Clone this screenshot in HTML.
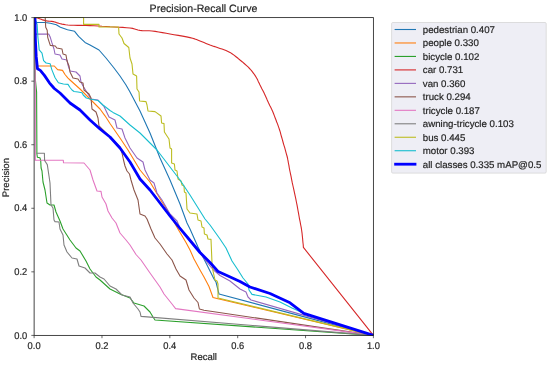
<!DOCTYPE html>
<html><head><meta charset="utf-8"><title>Precision-Recall Curve</title>
<style>
html,body{margin:0;padding:0;background:#fff;}
svg{display:block;}
text{font-family:"Liberation Sans",Arial,sans-serif;fill:#262626;stroke:#262626;stroke-width:0.2px;text-rendering:geometricPrecision;}
</style></head><body>
<svg width="550" height="365" viewBox="0 0 550 365">
<rect x="0" y="0" width="550" height="365" fill="#ffffff"/>
<defs><clipPath id="ax"><rect x="34.12" y="17.35" width="339.78" height="318.55"/></clipPath></defs>
<g clip-path="url(#ax)" fill="none" stroke-linejoin="round" stroke-linecap="butt">
<polyline points="34.4,17.6 36.3,22.5 45.2,22.5 50.3,23.3 56.3,24.7 60.4,27.2 67.5,29.7 74.6,31.3 78.6,36.3 85.0,42.4 90.0,45.0 99.0,50.0 106.0,58.0 114.0,68.0 120.0,76.0 126.0,85.0 130.0,92.0 140.0,111.0 150.0,133.0 156.0,148.0 160.0,158.0 170.0,180.0 180.0,204.0 187.0,223.0 190.0,229.0 198.0,247.0 204.0,259.0 210.0,271.0 214.0,279.0 216.0,282.0 219.0,294.0 373.4,335.4" stroke="#1f77b4" stroke-width="1.10"/>
<polyline points="34.4,17.6 35.5,50.0 36.5,66.0 54.3,66.0 57.6,69.6 62.5,70.4 65.0,74.5 68.0,78.2 70.0,80.0 80.0,89.0 90.0,99.0 100.0,109.0 105.0,115.8 110.0,123.5 120.0,138.0 128.0,150.0 134.0,160.0 140.0,170.0 150.0,182.0 156.0,192.0 162.0,202.0 166.0,208.0 178.0,229.0 186.0,242.5 190.0,250.0 194.0,259.0 200.0,270.0 204.0,277.0 209.0,286.5 213.0,297.5 218.0,298.8 373.4,335.4" stroke="#ff7f0e" stroke-width="1.10"/>
<polyline points="34.4,17.6 35.2,30.0 35.4,80.0 36.6,92.0 36.9,154.0 37.4,157.3 39.9,157.7 40.7,160.5 41.1,168.0 42.0,171.0 43.0,182.0 45.0,190.0 47.0,203.0 50.0,205.0 54.0,205.0 56.0,212.0 60.0,221.0 63.0,229.0 70.0,240.0 76.0,248.0 80.0,251.0 86.0,261.0 90.0,269.0 96.0,277.0 100.0,280.0 110.0,289.0 120.0,294.0 130.0,298.0 134.0,303.0 144.0,306.0 150.0,312.0 153.0,317.0 155.0,320.0 373.4,335.4" stroke="#2ca02c" stroke-width="1.10"/>
<polyline points="34.4,17.6 34.8,17.6 35.2,17.6 35.8,17.7 36.6,17.8 37.6,18.0 38.8,18.4 40.3,19.0 41.9,19.6 43.6,20.1 45.2,20.6 46.8,20.9 48.5,21.1 50.1,21.2 51.7,21.4 53.3,21.6 54.7,22.0 56.1,22.4 57.4,22.9 58.8,23.3 60.4,23.7 62.1,24.1 63.8,24.4 65.6,24.7 67.8,25.0 70.5,25.2 73.8,25.3 77.6,25.4 81.7,25.4 85.9,25.5 90.0,25.6 94.0,25.8 98.0,26.0 102.0,26.3 106.0,26.5 110.0,26.8 114.2,27.0 118.5,27.2 122.7,27.4 126.6,27.7 130.0,28.0 132.6,28.4 134.6,29.0 136.3,29.5 138.0,30.0 140.0,30.4 142.2,30.6 144.4,30.7 146.7,30.7 149.2,30.8 152.0,31.0 155.2,31.4 158.7,32.0 162.4,32.6 166.2,33.3 170.0,34.0 174.0,34.7 178.3,35.4 182.6,36.1 186.6,36.9 190.0,37.6 192.6,38.3 194.7,38.9 196.5,39.6 198.2,40.3 200.0,41.0 202.0,41.8 204.0,42.6 206.0,43.4 208.0,44.2 210.0,45.0 212.0,45.7 214.0,46.4 216.0,47.0 218.0,47.7 220.0,48.4 222.0,49.1 224.0,49.8 226.0,50.5 228.0,51.4 230.0,52.4 232.0,53.7 234.0,55.1 236.0,56.7 238.0,58.3 240.0,60.0 242.1,61.7 244.2,63.5 246.3,65.4 248.3,67.2 250.0,69.0 251.5,70.7 252.8,72.3 253.9,73.8 255.0,75.4 256.0,77.0 256.9,78.6 257.7,80.1 258.4,81.7 259.2,83.3 260.0,85.0 261.0,86.9 262.0,89.0 263.1,91.0 264.1,93.1 265.0,95.0 265.8,96.7 266.6,98.4 267.2,100.0 267.9,101.5 268.6,103.0 269.3,104.4 269.9,105.7 270.6,107.0 271.3,108.4 272.0,110.0 272.8,111.8 273.6,113.8 274.4,115.9 275.2,118.0 276.0,120.0 276.7,122.0 277.5,123.9 278.2,125.9 278.9,127.9 279.6,130.0 280.3,132.2 280.9,134.6 281.6,137.0 282.3,139.4 283.0,142.0 283.8,144.8 284.7,147.7 285.5,150.7 286.3,153.6 287.0,156.0 287.5,158.0 287.8,159.7 288.1,161.1 288.3,162.5 288.6,164.0 288.9,165.4 289.1,166.7 289.3,168.0 289.6,169.6 290.0,171.5 290.5,173.9 291.1,176.7 291.7,179.8 292.3,182.9 293.0,186.0 293.7,189.1 294.4,192.4 295.1,195.7 295.8,198.9 296.4,202.0 297.0,204.9 297.5,207.7 298.0,210.5 298.5,213.2 299.0,216.0 299.5,218.8 300.1,221.6 300.6,224.5 301.2,227.3 301.6,230.0 302.0,232.8 302.3,235.7 302.6,238.5 302.8,241.0 303.0,243.0 303.2,244.5 303.3,245.6 303.3,246.4 303.4,246.9 303.4,247.4 373.4,335.4" stroke="#d62728" stroke-width="1.10"/>
<polyline points="34.4,17.6 34.6,34.1 48.7,34.1 50.3,37.3 51.8,42.4 54.0,49.0 55.0,54.0 60.0,55.0 62.0,59.0 67.0,60.0 68.0,65.0 70.0,71.0 76.0,72.0 80.0,76.0 81.0,82.0 83.0,86.0 88.0,94.0 91.0,99.0 98.0,100.0 104.0,106.5 109.0,117.0 115.0,120.0 117.0,128.0 122.0,129.0 125.0,138.0 130.0,148.0 137.0,158.0 143.0,162.0 145.0,170.0 150.0,180.0 154.0,183.0 157.0,193.0 162.0,200.0 170.0,214.0 177.0,221.0 180.0,228.0 188.0,238.5 200.0,253.0 206.0,261.0 213.0,269.5 220.0,275.5 230.0,281.0 240.0,289.0 246.0,292.0 248.0,297.0 251.0,300.0 373.4,335.4" stroke="#9467bd" stroke-width="1.10"/>
<polyline points="34.4,17.4 45.2,17.4 45.7,27.2 47.2,30.2 47.7,37.3 49.3,42.4 50.3,45.4 55.3,46.0 56.8,48.0 62.0,49.0 63.0,54.0 66.0,55.0 67.0,61.0 69.0,66.0 70.0,72.0 73.0,78.0 78.0,79.0 80.0,82.0 83.0,83.0 84.0,90.0 89.0,94.0 91.0,98.0 92.0,109.0 96.0,112.0 98.0,118.0 99.0,126.0 110.0,137.0 120.0,147.0 122.0,153.0 123.5,160.0 125.0,166.0 127.0,171.0 129.5,174.0 131.0,180.0 134.0,190.0 138.0,200.0 140.0,214.0 145.0,216.0 147.0,219.0 151.0,229.0 155.0,238.0 160.0,244.0 167.0,254.0 172.0,260.0 176.0,269.0 180.0,276.0 186.0,280.0 189.0,290.0 194.0,298.0 198.0,302.5 199.4,309.0 204.0,310.2 373.4,335.4" stroke="#8c564b" stroke-width="1.10"/>
<polyline points="34.4,17.6 35.0,30.0 35.3,90.0 35.3,160.2 63.3,160.3 63.5,162.8 84.0,163.0 90.0,170.0 93.0,180.0 97.0,191.0 101.0,191.4 102.0,197.0 106.0,204.0 108.0,211.0 112.0,218.0 116.0,223.0 120.0,233.0 126.0,240.0 130.0,245.0 136.0,254.5 141.0,260.0 150.0,273.0 160.0,287.0 164.0,294.0 172.0,304.0 175.6,308.6 373.4,335.4" stroke="#e377c2" stroke-width="1.10"/>
<polyline points="36.8,153.3 44.4,153.3 44.6,160.5 47.3,164.6 49.0,176.0 50.0,183.0 51.0,205.0 53.0,208.0 54.0,220.0 55.0,221.6 59.0,222.0 60.0,229.0 63.0,235.0 64.0,245.0 67.0,252.0 72.0,258.0 77.0,259.0 79.0,266.0 85.0,268.0 90.0,273.0 95.0,273.0 100.0,277.0 104.0,279.0 110.0,286.0 116.0,289.0 122.0,295.0 130.0,297.0 133.0,303.0 138.0,309.0 140.0,312.0 141.0,316.4 373.4,335.4" stroke="#7f7f7f" stroke-width="1.10"/>
<polyline points="34.4,17.4 83.6,17.4 83.6,24.4 99.0,24.4 99.0,27.0 118.6,27.0 119.0,34.0 122.0,38.0 124.0,43.5 128.8,47.5 130.0,58.0 132.0,64.0 133.0,74.0 136.6,76.0 137.0,89.0 139.0,92.0 139.6,101.0 146.0,101.6 147.0,105.0 148.0,111.0 155.0,111.6 161.0,116.0 161.6,123.0 164.0,123.6 164.4,132.0 167.0,136.0 169.0,139.0 170.0,148.0 171.6,149.0 171.6,163.0 174.4,164.0 175.0,170.0 177.0,171.0 178.0,179.0 181.0,181.0 182.0,185.0 184.0,186.0 184.4,192.0 186.0,193.0 187.0,209.0 190.0,213.0 197.0,214.0 198.0,220.0 201.0,221.0 202.0,227.0 204.0,228.0 204.4,234.0 207.0,235.0 208.0,239.0 211.0,239.4 212.0,263.0 213.0,271.0 215.0,280.0 217.0,281.0 218.0,284.0 218.0,298.0 373.4,335.4" stroke="#bcbd22" stroke-width="1.10"/>
<polyline points="34.4,17.6 36.5,23.7 37.1,23.7 37.9,37.3 38.2,40.0 39.2,49.9 42.0,53.2 43.6,60.6 46.1,63.0 50.2,63.8 51.8,69.6 55.1,77.8 58.4,82.8 63.4,84.0 68.0,84.4 70.0,87.5 72.0,90.0 74.0,91.5 78.0,92.0 82.0,92.8 83.2,95.0 86.3,98.0 91.0,99.3 98.0,100.5 103.0,105.0 110.0,110.5 113.0,112.4 120.0,116.0 130.0,125.0 140.0,133.0 150.0,143.0 157.0,150.0 170.0,167.0 180.0,180.0 190.0,195.0 200.0,211.0 205.0,219.0 210.0,225.0 220.0,239.0 226.0,248.0 232.0,261.0 236.0,267.0 238.0,270.0 243.0,278.0 248.0,284.0 249.0,290.0 252.0,294.4 266.0,297.0 280.0,302.0 292.0,308.0 303.0,313.0 373.4,335.4" stroke="#17becf" stroke-width="1.10"/>
<polyline points="35.0,17.6 35.4,40.0 36.2,56.4 37.5,68.8 40.3,70.4 44.4,75.4 49.4,82.8 54.3,88.5 60.0,93.0 70.0,103.0 80.0,110.0 90.0,120.0 100.0,129.0 110.0,137.0 120.0,148.0 130.0,162.0 140.0,179.0 150.0,190.0 160.0,203.0 170.0,216.0 178.0,226.0 188.0,238.0 200.0,252.5 210.0,262.5 218.0,271.5 228.0,276.0 240.0,281.5 250.0,287.0 270.0,293.5 290.0,302.8 303.8,313.3 373.4,335.4" stroke="#0000ff" stroke-width="2.80"/>
</g>
<rect x="34.12" y="17.60" width="339.28" height="317.80" fill="none" stroke="#262626" stroke-width="0.85"/>
<line x1="34.12" y1="335.40" x2="34.12" y2="338.20" stroke="#262626" stroke-width="0.7"/>
<line x1="31.32" y1="335.40" x2="34.12" y2="335.40" stroke="#262626" stroke-width="0.7"/>
<text x="34.12" y="348.60" font-size="9.80" text-anchor="middle" textLength="13.0" lengthAdjust="spacingAndGlyphs">0.0</text>
<text x="27.22" y="338.50" font-size="9.80" text-anchor="end" textLength="13.0" lengthAdjust="spacingAndGlyphs">0.0</text>
<line x1="101.98" y1="335.40" x2="101.98" y2="338.20" stroke="#262626" stroke-width="0.7"/>
<line x1="31.32" y1="271.84" x2="34.12" y2="271.84" stroke="#262626" stroke-width="0.7"/>
<text x="101.98" y="348.60" font-size="9.80" text-anchor="middle" textLength="13.0" lengthAdjust="spacingAndGlyphs">0.2</text>
<text x="27.22" y="274.94" font-size="9.80" text-anchor="end" textLength="13.0" lengthAdjust="spacingAndGlyphs">0.2</text>
<line x1="169.83" y1="335.40" x2="169.83" y2="338.20" stroke="#262626" stroke-width="0.7"/>
<line x1="31.32" y1="208.28" x2="34.12" y2="208.28" stroke="#262626" stroke-width="0.7"/>
<text x="169.83" y="348.60" font-size="9.80" text-anchor="middle" textLength="13.0" lengthAdjust="spacingAndGlyphs">0.4</text>
<text x="27.22" y="211.38" font-size="9.80" text-anchor="end" textLength="13.0" lengthAdjust="spacingAndGlyphs">0.4</text>
<line x1="237.69" y1="335.40" x2="237.69" y2="338.20" stroke="#262626" stroke-width="0.7"/>
<line x1="31.32" y1="144.72" x2="34.12" y2="144.72" stroke="#262626" stroke-width="0.7"/>
<text x="237.69" y="348.60" font-size="9.80" text-anchor="middle" textLength="13.0" lengthAdjust="spacingAndGlyphs">0.6</text>
<text x="27.22" y="147.82" font-size="9.80" text-anchor="end" textLength="13.0" lengthAdjust="spacingAndGlyphs">0.6</text>
<line x1="305.54" y1="335.40" x2="305.54" y2="338.20" stroke="#262626" stroke-width="0.7"/>
<line x1="31.32" y1="81.16" x2="34.12" y2="81.16" stroke="#262626" stroke-width="0.7"/>
<text x="305.54" y="348.60" font-size="9.80" text-anchor="middle" textLength="13.0" lengthAdjust="spacingAndGlyphs">0.8</text>
<text x="27.22" y="84.26" font-size="9.80" text-anchor="end" textLength="13.0" lengthAdjust="spacingAndGlyphs">0.8</text>
<line x1="373.40" y1="335.40" x2="373.40" y2="338.20" stroke="#262626" stroke-width="0.7"/>
<line x1="31.32" y1="17.60" x2="34.12" y2="17.60" stroke="#262626" stroke-width="0.7"/>
<text x="373.40" y="348.60" font-size="9.80" text-anchor="middle" textLength="13.0" lengthAdjust="spacingAndGlyphs">1.0</text>
<text x="27.22" y="20.70" font-size="9.80" text-anchor="end" textLength="13.0" lengthAdjust="spacingAndGlyphs">1.0</text>
<text x="203.46" y="12.3" font-size="10.6" text-anchor="middle">Precision-Recall Curve</text>
<text x="203.76" y="360.2" font-size="9.5" text-anchor="middle">Recall</text>
<text transform="translate(9.2,177.60) rotate(-90)" font-size="9.5" text-anchor="middle">Precision</text>
<rect x="391.60" y="22.50" width="154.60" height="150.60" rx="1.2" ry="1.2" fill="#eeeef5" stroke="#d6d6d6" stroke-width="0.8"/>
<line x1="394.60" y1="29.50" x2="416.00" y2="29.50" stroke="#1f77b4" stroke-width="1.10"/>
<text x="422.8" y="32.80" font-size="9.7">pedestrian 0.407</text>
<line x1="394.60" y1="42.97" x2="416.00" y2="42.97" stroke="#ff7f0e" stroke-width="1.10"/>
<text x="422.8" y="46.27" font-size="9.7">people 0.330</text>
<line x1="394.60" y1="56.44" x2="416.00" y2="56.44" stroke="#2ca02c" stroke-width="1.10"/>
<text x="422.8" y="59.74" font-size="9.7">bicycle 0.102</text>
<line x1="394.60" y1="69.91" x2="416.00" y2="69.91" stroke="#d62728" stroke-width="1.10"/>
<text x="422.8" y="73.21" font-size="9.7">car 0.731</text>
<line x1="394.60" y1="83.38" x2="416.00" y2="83.38" stroke="#9467bd" stroke-width="1.10"/>
<text x="422.8" y="86.68" font-size="9.7">van 0.360</text>
<line x1="394.60" y1="96.85" x2="416.00" y2="96.85" stroke="#8c564b" stroke-width="1.10"/>
<text x="422.8" y="100.15" font-size="9.7">truck 0.294</text>
<line x1="394.60" y1="110.32" x2="416.00" y2="110.32" stroke="#e377c2" stroke-width="1.10"/>
<text x="422.8" y="113.62" font-size="9.7">tricycle 0.187</text>
<line x1="394.60" y1="123.79" x2="416.00" y2="123.79" stroke="#7f7f7f" stroke-width="1.10"/>
<text x="422.8" y="127.09" font-size="9.7">awning-tricycle 0.103</text>
<line x1="394.60" y1="137.26" x2="416.00" y2="137.26" stroke="#bcbd22" stroke-width="1.10"/>
<text x="422.8" y="140.56" font-size="9.7">bus 0.445</text>
<line x1="394.60" y1="150.73" x2="416.00" y2="150.73" stroke="#17becf" stroke-width="1.10"/>
<text x="422.8" y="154.03" font-size="9.7">motor 0.393</text>
<line x1="394.20" y1="164.20" x2="416.40" y2="164.20" stroke="#0000ff" stroke-width="2.80"/>
<text x="422.8" y="167.50" font-size="9.7">all classes 0.335 mAP@0.5</text>
</svg>
</body></html>
